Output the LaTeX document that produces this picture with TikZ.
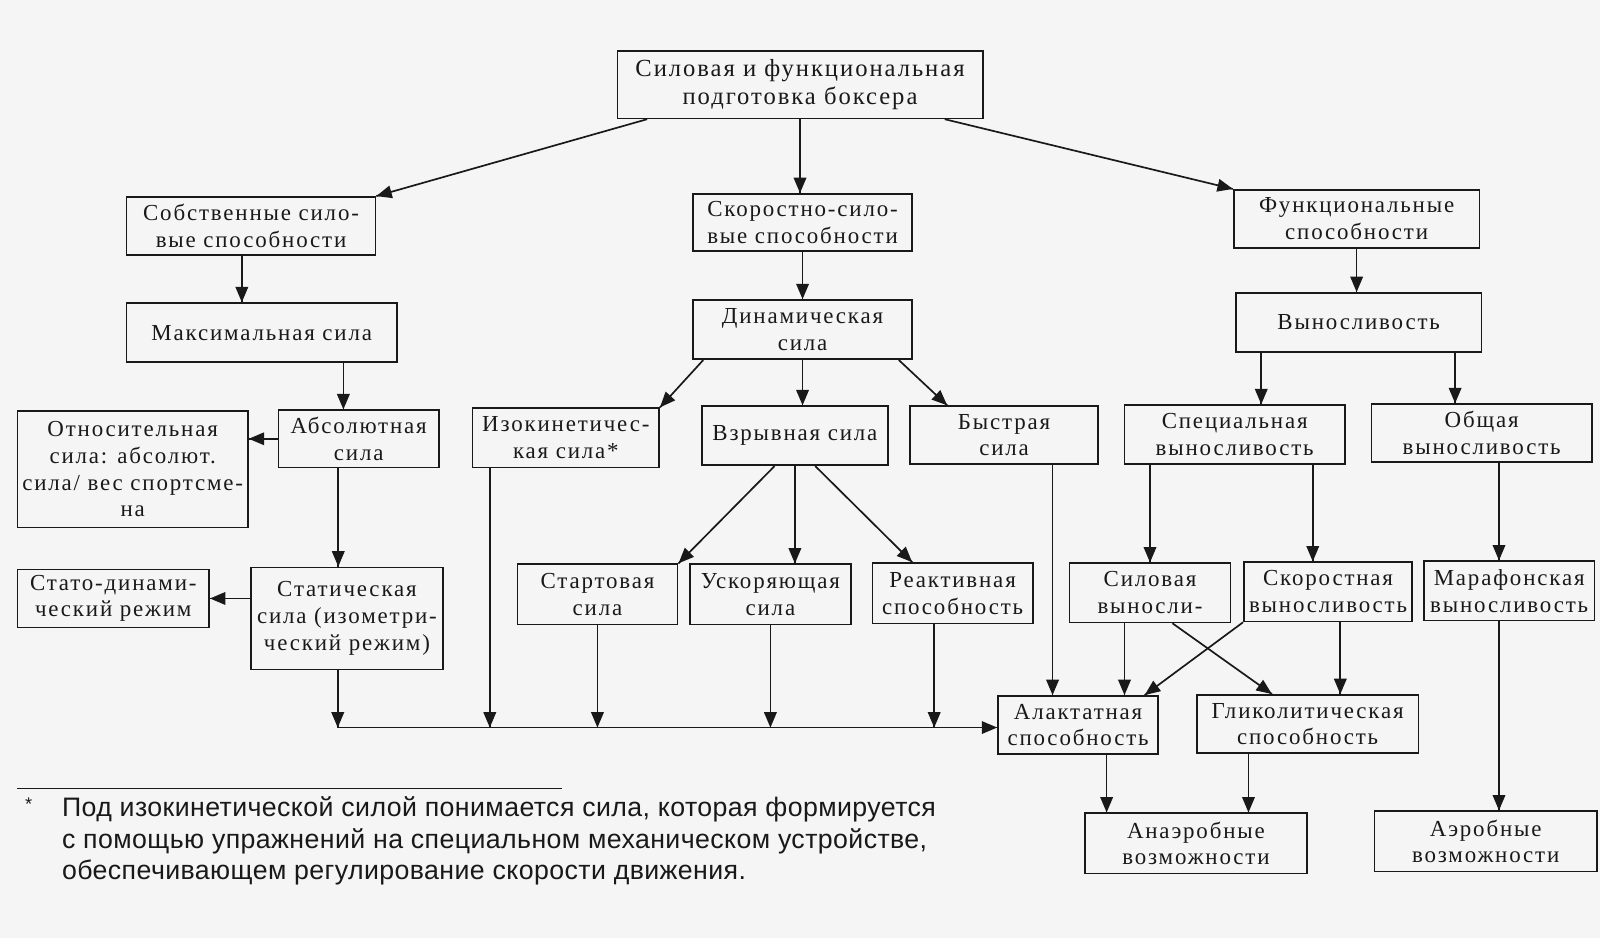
\documentclass[tikz,border=0pt]{standalone}
\usepackage{fontspec}
\setmainfont{Liberation Serif}[LetterSpace=8]
\newfontfamily\notefont{Liberation Sans}[LetterSpace=1.5]
\usetikzlibrary{arrows}
\usetikzlibrary{decorations.markings}
\definecolor{paper}{RGB}{245,245,245}
\definecolor{ink}{RGB}{25,25,25}
\newcommand{\px}{0.0255cm}
\tikzset{tip/.style = {decoration={markings,
                                   mark=at position 1 with {\arrow[scale=1.15]{triangle 45}}},
                       postaction={decorate}}}
\tikzset{box/.style 2 args = {draw, rectangle, inner sep = 0, align = center,
                              minimum width = #1*\px, minimum height = #2*\px}}
\tikzset{note/.style = {inner sep = 0, align = left, font = \notefont\fontsize{19}{22.5}\selectfont}}

\begin{document}
\begin{tikzpicture}[x = \px, y = -\px, line width = 1.2pt, draw = ink, text = ink,
                    font = \fontsize{16.3}{19}\selectfont]
    \fill [paper] (0, 0) rectangle (1568, 919);
    \useasboundingbox (0, 0) rectangle (1568, 919);

    \node [box={358}{66}, font = \fontsize{17.5}{20}\selectfont] (top) at (784, 83) {Силовая и функциональная\\подготовка боксера};

    \node [box={244}{57}] (sobst) at (246, 221.5) {Собственные сило-\\вые способности};
    \node [box={215}{56}] (skor) at (786.5, 218) {Скоростно-сило-\\вые способности};
    \node [box={241}{57}] (func) at (1329.5, 214.5) {Функциональные\\способности};

    \node [box={265}{58}] (maks) at (256.5, 326) {Максимальная сила};
    \node [box={215}{58}] (dinam) at (786.5, 323) {Динамическая\\сила};
    \node [box={241}{58}] (vynos) at (1331.5, 316) {Выносливость};

    \node [box={226}{114}] (otnos) at (130, 460) {Относительная\\сила: абсолют.\\сила/ вес спортсме-\\на};
    \node [box={157}{56}] (absol) at (351.5, 430) {Абсолютная\\сила};
    \node [box={183}{58}] (izokin) at (554.5, 429) {Изокинетичес-\\кая сила*};
    \node [box={182}{58}] (vzryv) at (779, 427) {Взрывная сила};
    \node [box={184}{57}] (bystr) at (984, 426.5) {Быстрая\\сила};
    \node [box={216}{58}] (spec) at (1210, 426) {Специальная\\выносливость};
    \node [box={216}{57}] (obsch) at (1452, 424.5) {Общая\\выносливость};

    \node [box={188}{57}] (stato) at (111, 586.5) {Стато-динами-\\ческий режим};
    \node [box={188}{100}] (static) at (340, 606) {Статическая\\сила (изометри-\\ческий режим)};
    \node [box={157}{59}] (start) at (585.5, 582.5) {Стартовая\\сила};
    \node [box={158}{59}] (uskor) at (755, 582.5) {Ускоряющая\\сила};
    \node [box={157}{59}] (reakt) at (933.5, 581.5) {Реактивная\\способность};
    \node [box={158}{58}] (silvyn) at (1127, 581) {Силовая\\выносли-};
    \node [box={165}{58}] (skorvyn) at (1301.5, 580) {Скоростная\\выносливость};
    \node [box={167}{58}] (marafon) at (1479, 579) {Марафонская\\выносливость};

    \node [box={157}{57}] (alakt) at (1056.5, 710.5) {Алактатная\\способность};
    \node [box={217}{57}] (glikol) at (1281.5, 709.5) {Гликолитическая\\способность};
    \node [box={218}{59}] (anaer) at (1172, 826.5) {Анаэробные\\возможности};
    \node [box={218}{59}] (aerob) at (1456, 824.5) {Аэробные\\возможности};

    % top level
    \draw [tip] ([xshift=30*\px]top.south west) -- (sobst.north east);
    \draw [tip] (top.south) -- (top.south |- skor.north);
    \draw [tip] ([xshift=-38*\px]top.south east) -- (func.north west);

    % left column
    \draw [tip] ([xshift=-9*\px]sobst.south) -- ([xshift=-9*\px]sobst.south |- maks.north);
    \draw [tip] ([xshift=-15*\px]absol.north |- maks.south) -- ([xshift=-15*\px]absol.north);
    \draw [tip] (absol.west) -- (absol.west -| otnos.east);
    \draw [tip] ([xshift=-20*\px]absol.south) -- ([xshift=-20*\px]absol.south |- static.north);
    \draw [tip] (static.west |- stato) -- (stato.east);

    % middle column
    \draw [tip] (skor.south) -- (skor.south |- dinam.north);
    \draw [tip] ([xshift=11*\px]dinam.south west) -- (izokin.north east);
    \draw [tip] (dinam.south) -- (dinam.south |- vzryv.north);
    \draw [tip] ([xshift=-14*\px]dinam.south east) -- ([xshift=37*\px]bystr.north west);
    \draw [tip] ([xshift=-20*\px]vzryv.south) -- (start.north east);
    \draw [tip] (vzryv.south) -- (vzryv.south |- uskor.north);
    \draw [tip] ([xshift=20*\px]vzryv.south) -- ([xshift=40*\px]reakt.north west);

    % right column
    \draw [tip] (func.south) -- (func.south |- vynos.north);
    \draw [tip] ([xshift=26*\px]spec.north |- vynos.south) -- ([xshift=26*\px]spec.north);
    \draw [tip] ([xshift=-26*\px]obsch.north |- vynos.south) -- ([xshift=-26*\px]obsch.north);
    \draw [tip] (silvyn.north |- spec.south) -- (silvyn.north);
    \draw [tip] ([xshift=-15*\px]skorvyn.north |- spec.south) -- ([xshift=-15*\px]skorvyn.north);
    \draw [tip] ([xshift=-10*\px]marafon.north |- obsch.south) -- ([xshift=-10*\px]marafon.north);
    \draw [tip] ([xshift=-10*\px]marafon.south) -- ([xshift=-10*\px]marafon.south |- aerob.north);
    \draw [tip] ([xshift=-25*\px]silvyn.south) -- ([xshift=-25*\px]silvyn.south |- alakt.north);
    \draw [tip] ([xshift=22*\px]silvyn.south) -- ([xshift=-35*\px]glikol.north);
    \draw [tip] (skorvyn.south west) -- ([xshift=-14*\px]alakt.north east);
    \draw [tip] ([xshift=12*\px]skorvyn.south) -- ([xshift=12*\px]skorvyn.south |- glikol.north);
    \draw [tip] ([xshift=-25*\px]alakt.north |- bystr.south) -- ([xshift=-25*\px]alakt.north);
    \draw [tip] ([xshift=28*\px]alakt.south) -- ([xshift=28*\px]alakt.south |- anaer.north);
    \draw [tip] ([xshift=-58*\px]glikol.south) -- ([xshift=-58*\px]glikol.south |- anaer.north);

    % collector line
    \coordinate (bus) at (331, 713);
    \coordinate (bus1) at (480, 713);
    \draw [tip] (static.south -| bus) -- (bus);
    \draw [tip] (izokin.south -| bus1) -- (bus1);
    \draw [tip] (start.south) -- (start.south |- bus);
    \draw [tip] (uskor.south) -- (uskor.south |- bus);
    \draw [tip] ([xshift=-18*\px]reakt.south) -- ([xshift=-18*\px]reakt.south |- bus);
    \draw [tip] (bus) -- (bus -| alakt.west);

    % footnote
    \coordinate (ruleL) at (17, 773);
    \coordinate (ruleR) at (551, 773);
    \draw [line width = 0.8pt] (ruleL) -- (ruleR);
    \node [note, font = \notefont\fontsize{13}{13}\selectfont] (star) at (28, 788) {*};
    \node [note, anchor = north west] (fn) at (60, 780)
        {Под изокинетической силой понимается сила, которая формируется\\
         с помощью упражнений на специальном механическом устройстве,\\
         обеспечивающем регулирование скорости движения.};
\end{tikzpicture}
\end{document}
